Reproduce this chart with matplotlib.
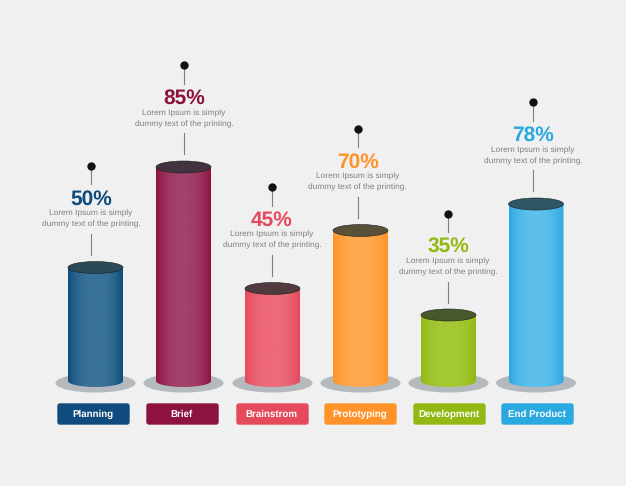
#!/usr/bin/env python3
"""Cylinder infographic bars with pinned percentage labels."""

import matplotlib.pyplot as plt
import numpy as np
from matplotlib.colors import LinearSegmentedColormap
from matplotlib.patches import Ellipse, FancyBboxPatch, PathPatch
from matplotlib.path import Path

categories = ['Planning', 'Brief', 'Brainstrom', 'Prototyping', 'Development', 'End Product']
percents = [50, 85, 45, 70, 35, 78]
# drawn heights, they are not proportional to the percentages in the original
bar_heights = [119.5, 220, 98.5, 156.5, 72, 183]
colors = ['#0f4c7d', '#8e1240', '#e4495c', '#ff9329', '#92b913', '#2aa8e0']
light_colors = ['#3a7399', '#a2416a', '#ee6b7a', '#ffaa4f', '#a5c935', '#5ec0ec']
top_colors = ['#2a4a58', '#41333f', '#4f3a3e', '#57513a', '#47582a', '#2e5868']
text_lines = ['Lorem Ipsum is simply', 'dummy text of the printing.']

BASE_Y = 387
BAR_W = 55
TOP_H = 12
bar_x = [95.5, 183.5, 272.5, 360.5, 448.5, 536]
label_x = [93.5, 182.5, 272.5, 360.5, 449.5, 537.5]
pin_x = [91, 184, 272, 357.5, 448, 533]


def cylinder_path(cx, top, bottom):
    """Body outline: straight sides with a rounded bottom."""
    left, right = cx - BAR_W / 2, cx + BAR_W / 2
    k = 0.55
    rx, ry = BAR_W / 2, TOP_H / 2
    by = bottom - ry
    verts = [(left, top), (left, by),
             (left, by + k * ry), (cx - k * rx, bottom), (cx, bottom),
             (cx + k * rx, bottom), (right, by + k * ry), (right, by),
             (right, top), (left, top)]
    codes = [Path.MOVETO, Path.LINETO,
             Path.CURVE4, Path.CURVE4, Path.CURVE4,
             Path.CURVE4, Path.CURVE4, Path.CURVE4,
             Path.LINETO, Path.CLOSEPOLY]
    return Path(verts, codes)


def main():
    plt.rcParams['font.family'] = ['Liberation Sans', 'DejaVu Sans']
    plt.rcParams['text.hinting'] = 'none'
    fig = plt.figure(figsize=(6.26, 4.86), dpi=100, facecolor='#f0f0f0')
    ax = fig.add_axes([0, 0, 1, 1])
    ax.axis('off')

    grad = np.abs(np.linspace(-1, 1, 128)).reshape(1, -1)
    for i, cat in enumerate(categories):
        cx = bar_x[i]
        top = BASE_Y - bar_heights[i]

        ax.add_patch(Ellipse((cx, 383), 80, 19, fc='#b3b9bd', ec='none', zorder=1))

        cmap = LinearSegmentedColormap.from_list(cat, [light_colors[i], colors[i]])
        body = PathPatch(cylinder_path(cx, top, BASE_Y), fc='none', ec='none',
                         transform=ax.transData)
        ax.add_patch(body)
        im = ax.imshow(grad ** 2.5, cmap=cmap, aspect='auto', zorder=2,
                       extent=[cx - BAR_W / 2, cx + BAR_W / 2, BASE_Y, top])
        im.set_clip_path(body)
        ax.add_patch(Ellipse((cx, top), BAR_W, TOP_H, fc=top_colors[i],
                             ec='#1c1c1c', lw=0.4, zorder=3))

        px = pin_x[i]
        ax.plot([px], [top - 101.5], 'o', ms=5, color='#111111', zorder=4)
        ax.plot([px, px], [top - 101, top - 83], color='#808080', lw=0.8, zorder=3)
        ax.plot([px, px], [top - 33.5, top - 12.5], color='#808080', lw=0.8, zorder=3)

        ax.text(px, top - 68.5, f'{percents[i]}%', color=colors[i], fontsize=15,
                fontweight='bold', ha='center', va='center')
        ax.text(px, top - 54, text_lines[0], color='#7f7f7f', fontsize=6.0,
                ha='center', va='center')
        ax.text(px, top - 43, text_lines[1], color='#7f7f7f', fontsize=6.0,
                ha='center', va='center')

        lx = label_x[i]
        ax.add_patch(FancyBboxPatch((lx - 35.5, 404), 71, 20,
                                    boxstyle='round,pad=0,rounding_size=2',
                                    fc=colors[i], ec=colors[i], lw=1, zorder=2))
        ax.text(lx - 1, 414, cat, color='white', fontsize=7, fontweight='bold',
                ha='center', va='center', zorder=3)

    ax.set_xlim(0, 626)
    ax.set_ylim(486, 0)
    fig.savefig('out.png', dpi=100, facecolor=fig.get_facecolor())


if __name__ == '__main__':
    main()
